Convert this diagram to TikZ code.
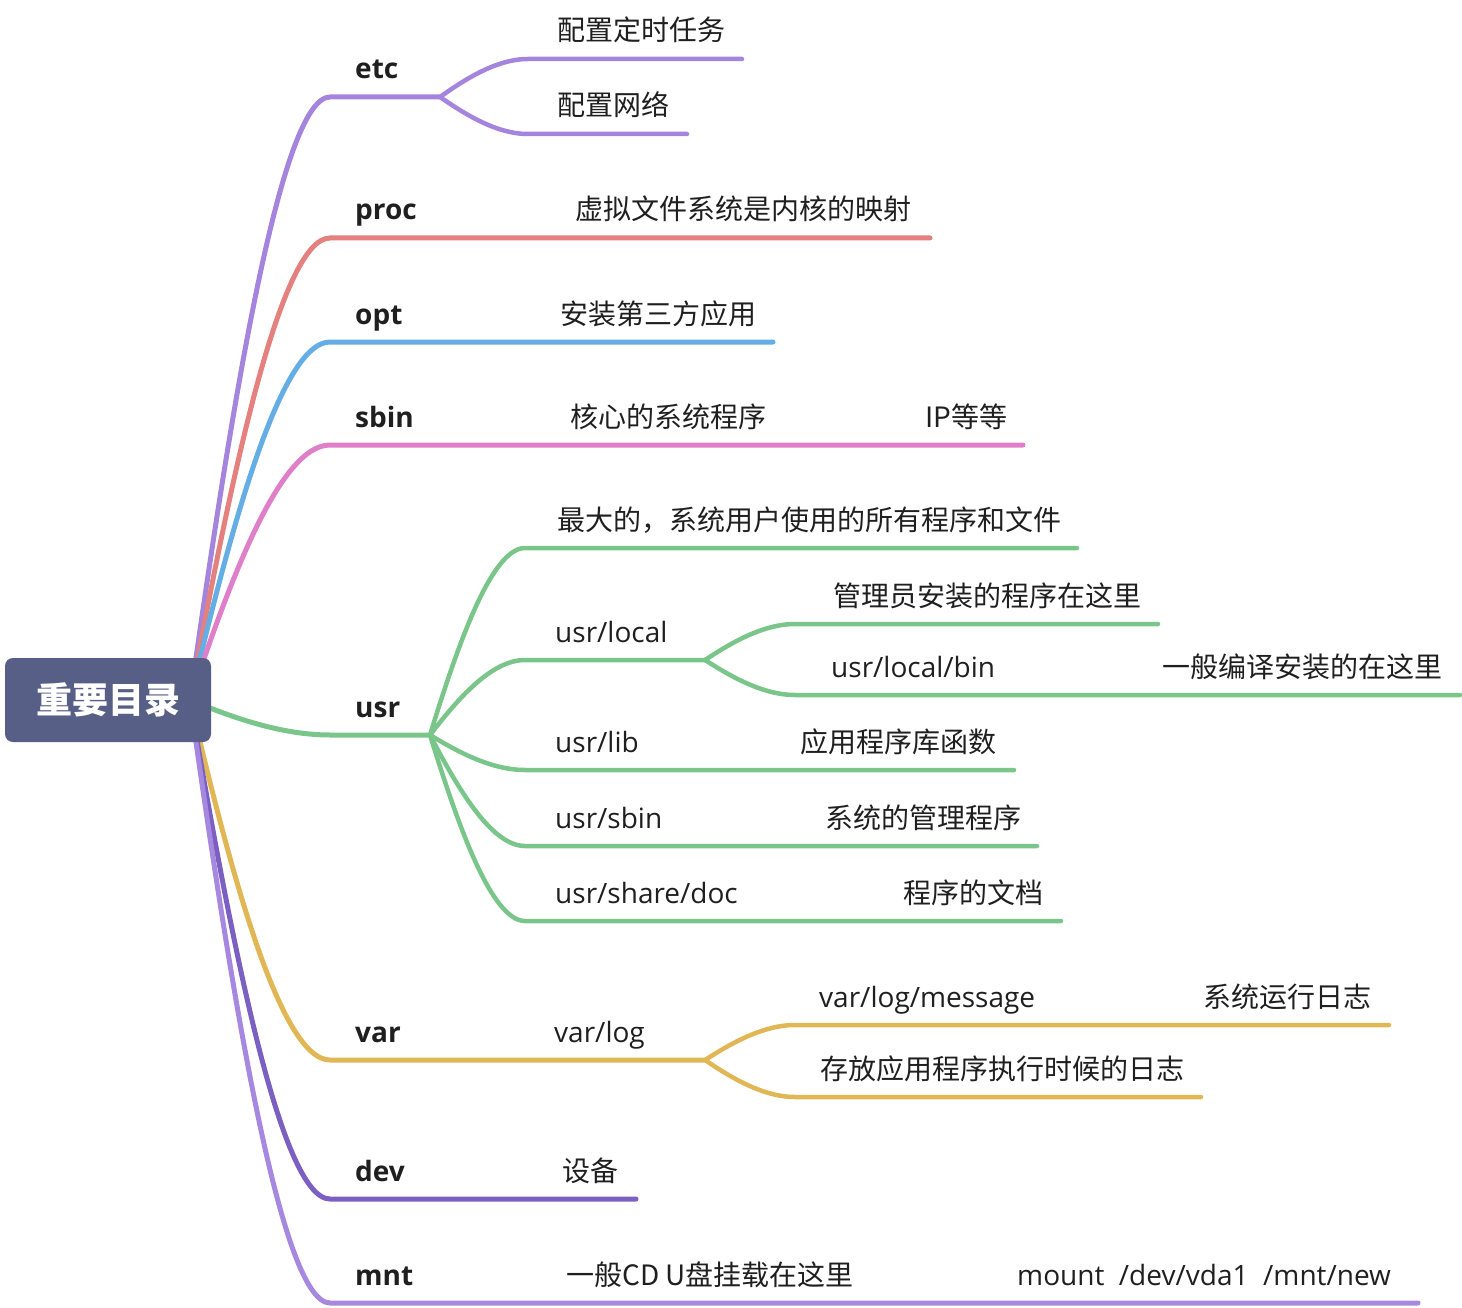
\documentclass[tikz,border=0pt]{standalone}
\usepackage{fontspec}
\setmainfont{Open Sans}
\newfontfamily\cjk{Noto Sans CJK SC}
\usetikzlibrary{calc, positioning}

\definecolor{rootc}{HTML}{575F86}
\definecolor{etcc}{HTML}{A484DC}
\definecolor{procc}{HTML}{E4807D}
\definecolor{optc}{HTML}{64ADE5}
\definecolor{sbinc}{HTML}{DF7FC9}
\definecolor{usrc}{HTML}{7AC58A}
\definecolor{varc}{HTML}{E1B755}
\definecolor{devc}{HTML}{7B60C1}
\definecolor{mntc}{HTML}{A688E0}

\begin{document}
\begin{tikzpicture}[
	x=1pt, y=-1pt,
	line cap=round,
	font=\fontsize{28}{34}\selectfont,
	text=black!88,
	branch/.style={to path={let \p1=(\tikztostart), \p2=(\tikztotarget) in
		.. controls ({\x1+0.28*(\x2-\x1)},{\y1+0.46*(\y2-\y1)}) and ({\x2-0.36*(\x2-\x1)},\y2) .. (\tikztotarget)}},
	mainline/.style={line width=5pt},
	subline/.style={line width=4.5pt},
	topic/.style={anchor=base west, inner sep=0pt, font=\fontsize{28}{34}\selectfont\bfseries},
	leaf/.style={anchor=base west, inner sep=0pt},
	cnleaf/.style={anchor=base west, inner sep=0pt, font=\fontsize{28}{34}\selectfont\cjk},
	rootbox/.style={fill=rootc, rounded corners=8pt, minimum width=206pt, minimum height=84pt,
		text=white, font=\fontsize{36}{40}\selectfont\cjk\bfseries}
]

\useasboundingbox (0,0) rectangle (1462,1308);

% branch points
\coordinate (o) at (190,700);

\coordinate (etc-a)   at (330,97);
\coordinate (etc-f)   at (440,97);
\coordinate (etc1-a)  at (528,59);
\coordinate (etc1-b)  at (742,59);
\coordinate (etc2-a)  at (528,134);
\coordinate (etc2-b)  at (687,134);

\coordinate (proc-a)  at (330,238);
\coordinate (proc-b)  at (930,238);
\coordinate (opt-a)   at (330,342);
\coordinate (opt-b)   at (773,342);
\coordinate (sbin-a)  at (330,445);
\coordinate (sbin-b)  at (1023,445);

\coordinate (usr-a)   at (330,735);
\coordinate (usr-f)   at (430,735);
\coordinate (usr1-a)  at (525,548);
\coordinate (usr1-b)  at (1077,548);
\coordinate (usr2-a)  at (525,660);
\coordinate (usr2-f)  at (705,660);
\coordinate (usr21-a) at (795,624);
\coordinate (usr21-b) at (1158,624);
\coordinate (usr22-a) at (795,695);
\coordinate (usr22-b) at (1460,695);
\coordinate (usr3-a)  at (525,770);
\coordinate (usr3-b)  at (1014,770);
\coordinate (usr4-a)  at (525,846);
\coordinate (usr4-b)  at (1037,846);
\coordinate (usr5-a)  at (525,921);
\coordinate (usr5-b)  at (1061,921);

\coordinate (var-a)   at (330,1060);
\coordinate (var-f)   at (705,1060);
\coordinate (var1-a)  at (795,1025);
\coordinate (var1-b)  at (1389,1025);
\coordinate (var2-a)  at (795,1097);
\coordinate (var2-b)  at (1201,1097);

\coordinate (dev-a)   at (330,1199);
\coordinate (dev-b)   at (636,1199);
\coordinate (mnt-a)   at (330,1303);
\coordinate (mnt-b)   at (1418,1303);

% lines
\draw [etcc, mainline]  (o) to [branch] (etc-a) -- (etc-f);
\draw [etcc, subline]   (etc-f) to [branch] (etc1-a) -- (etc1-b);
\draw [etcc, subline]   (etc-f) to [branch] (etc2-a) -- (etc2-b);

\draw [procc, mainline] (o) to [branch] (proc-a) -- (proc-b);
\draw [optc, mainline]  (o) to [branch] (opt-a) -- (opt-b);
\draw [sbinc, mainline] (o) to [branch] (sbin-a) -- (sbin-b);

\draw [usrc, mainline]  (o) to [branch] (usr-a) -- (usr-f);
\draw [usrc, subline]   (usr-f) to [branch] (usr1-a) -- (usr1-b);
\draw [usrc, subline]   (usr-f) to [branch] (usr2-a) -- (usr2-f);
\draw [usrc, subline]   (usr2-f) to [branch] (usr21-a) -- (usr21-b);
\draw [usrc, subline]   (usr2-f) to [branch] (usr22-a) -- (usr22-b);
\draw [usrc, subline]   (usr-f) to [branch] (usr3-a) -- (usr3-b);
\draw [usrc, subline]   (usr-f) to [branch] (usr4-a) -- (usr4-b);
\draw [usrc, subline]   (usr-f) to [branch] (usr5-a) -- (usr5-b);

\draw [varc, mainline]  (o) to [branch] (var-a) -- (var-f);
\draw [varc, subline]   (var-f) to [branch] (var1-a) -- (var1-b);
\draw [varc, subline]   (var-f) to [branch] (var2-a) -- (var2-b);

\draw [devc, mainline]  (o) to [branch] (dev-a) -- (dev-b);
\draw [mntc, mainline]  (o) to [branch] (mnt-a) -- (mnt-b);

% root
\node [rootbox] (root) at (108,700) {重要目录};

% texts
\node [topic]  (etc)     at (355,79)   {etc};
\node [cnleaf] (etc1)    at (557,41)   {配置定时任务};
\node [cnleaf] (etc2)    at (557,116)  {配置网络};

\node [topic]  (proc)    at (355,220)  {proc};
\node [cnleaf] (proc1)   at (575,220)  {虚拟文件系统是内核的映射};

\node [topic]  (opt)     at (355,324)  {opt};
\node [cnleaf] (opt1)    at (560,324)  {安装第三方应用};

\node [topic]  (sbin)    at (355,427)  {sbin};
\node [cnleaf] (sbin1)   at (570,427)  {核心的系统程序};
\node [cnleaf] (sbin11)  at (925,427)  {IP等等};

\node [topic]  (usr)     at (355,717)  {usr};
\node [cnleaf] (usr1)    at (557,530)  {最大的，系统用户使用的所有程序和文件};
\node [leaf]   (usr2)    at (555,642)  {usr/local};
\node [cnleaf] (usr21)   at (833,606)  {管理员安装的程序在这里};
\node [leaf]   (usr22)   at (831,677)  {usr/local/bin};
\node [cnleaf] (usr221)  at (1162,677) {一般编译安装的在这里};
\node [leaf]   (usr3)    at (555,752)  {usr/lib};
\node [cnleaf] (usr31)   at (800,752)  {应用程序库函数};
\node [leaf]   (usr4)    at (555,828)  {usr/sbin};
\node [cnleaf] (usr41)   at (825,828)  {系统的管理程序};
\node [leaf]   (usr5)    at (555,903)  {usr/share/doc};
\node [cnleaf] (usr51)   at (903,903)  {程序的文档};

\node [topic]  (var)     at (355,1042) {var};
\node [leaf]   (var1)    at (554,1042) {var/log};
\node [leaf]   (var11)   at (819,1007) {var/log/message};
\node [cnleaf] (var111)  at (1203,1007) {系统运行日志};
\node [cnleaf] (var12)   at (820,1079) {存放应用程序执行时候的日志};

\node [topic]  (dev)     at (355,1181) {dev};
\node [cnleaf] (dev1)    at (562,1181) {设备};

\node [topic]  (mnt)     at (355,1285) {mnt};
\node [cnleaf] (mnt1)    at (566,1285) {一般CD U盘挂载在这里};
\node [leaf]   (mnt11)   at (1017,1285) {mount\ \ /dev/vda1\ \ /mnt/new};

\end{tikzpicture}
\end{document}
